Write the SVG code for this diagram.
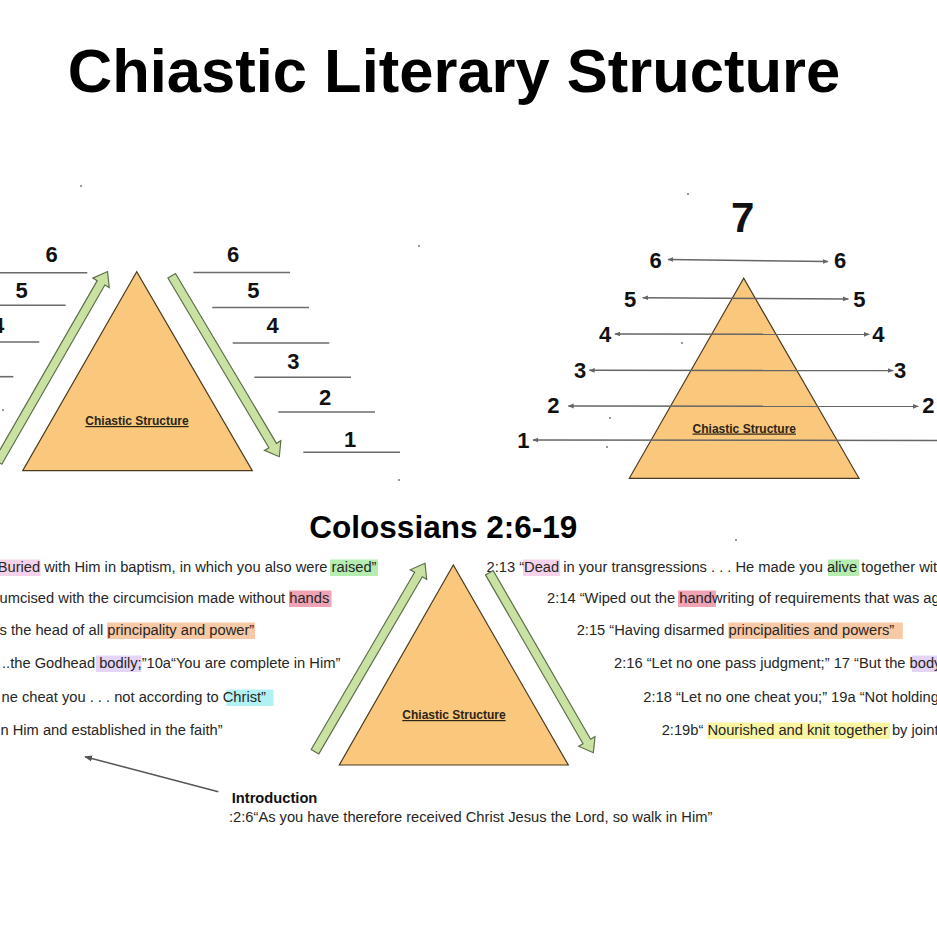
<svg xmlns="http://www.w3.org/2000/svg" width="937" height="937" viewBox="0 0 937 937">
<defs>
<style>
text{font-family:"Liberation Sans",Arial,sans-serif;}
.title{font-size:61.5px;font-weight:bold;fill:#000;}
.sub{font-size:31.5px;font-weight:bold;fill:#000;}
.num{font-size:22px;font-weight:bold;fill:#111;text-anchor:middle;}
.lbl{font-size:12px;font-weight:bold;fill:#2d2418;text-anchor:middle;text-decoration:underline;}
.body{font-size:14.7px;fill:#262626;}
.bold{font-size:14.7px;font-weight:bold;fill:#111;}
.tri{fill:#f9c87c;stroke:#4a3a20;stroke-width:1.2;}
.blk{fill:#c9e2a4;stroke:#5e7048;stroke-width:1.2;stroke-linejoin:miter;}
.stair{stroke:#6b6b6b;stroke-width:1.6;fill:none;}
.dbl{stroke:#666;stroke-width:1.5;fill:none;marker-start:url(#ah);marker-end:url(#ah);}
.speck{fill:#777;}
.pink{fill:#f6d2ea;}
.green{fill:#b5ecb0;}
.red{fill:#f0a3b4;}
.orange{fill:#f8c9a5;}
.lav{fill:#e4d4f5;}
.cyan{fill:#b2f1f3;}
.yellow{fill:#faf5a0;}
</style>
<marker id="ah" viewBox="0 0 10 10" refX="9" refY="5" markerWidth="6" markerHeight="6" markerUnits="userSpaceOnUse" orient="auto-start-reverse">
<path d="M0,1 L10,5 L0,9 z" fill="#666"/>
</marker>
<marker id="ah2" viewBox="0 0 10 10" refX="9" refY="5" markerWidth="8" markerHeight="8" markerUnits="userSpaceOnUse" orient="auto">
<path d="M0,1 L10,5 L0,9 z" fill="#555"/>
</marker>
</defs>
<rect width="937" height="937" fill="#fff"/>

<g id="title"><text class="title" x="454" y="92" text-anchor="middle">Chiastic Literary Structure</text></g>

<g id="specks">
<circle class="speck" cx="81" cy="186" r="1"/>
<circle class="speck" cx="419" cy="246" r="1"/>
<circle class="speck" cx="688" cy="194" r="1"/>
<circle class="speck" cx="399" cy="480" r="1"/>
<circle class="speck" cx="682" cy="343" r="1"/>
<circle class="speck" cx="610" cy="418" r="1"/>
<circle class="speck" cx="607" cy="447" r="1"/>
<circle class="speck" cx="3" cy="410" r="1"/>
<circle class="speck" cx="736" cy="540" r="1"/>
</g>

<!-- Left diagram -->
<g id="left-triangle">
<polygon class="tri" points="136.7,271.7 22.7,470.7 252.3,470.7"/>
<text class="lbl" x="137" y="425">Chiastic Structure</text>
</g>
<g id="left-stairs">
<line class="stair" x1="-5" y1="272.7" x2="87.3" y2="272.7"/>
<line class="stair" x1="-5" y1="305.3" x2="65.7" y2="305.3"/>
<line class="stair" x1="-5" y1="342" x2="39.3" y2="342"/>
<line class="stair" x1="-5" y1="376.7" x2="13.3" y2="376.7"/>
<text class="num" x="51.7" y="261.7">6</text>
<text class="num" x="21.7" y="298.3">5</text>
<text class="num" x="-2" y="333">4</text>
</g>
<g id="right-stairs">
<line class="stair" x1="193.3" y1="272.5" x2="290" y2="272.5"/>
<line class="stair" x1="212.3" y1="307.5" x2="309" y2="307.5"/>
<line class="stair" x1="232.7" y1="343" x2="329.3" y2="343"/>
<line class="stair" x1="254.3" y1="377.2" x2="351" y2="377.2"/>
<line class="stair" x1="278.3" y1="412" x2="375" y2="412"/>
<line class="stair" x1="303.3" y1="452.3" x2="400" y2="452.3"/>
<text class="num" x="233" y="261.7">6</text>
<text class="num" x="253.3" y="298.3">5</text>
<text class="num" x="272.7" y="333.3">4</text>
<text class="num" x="293.3" y="369.3">3</text>
<text class="num" x="325" y="405">2</text>
<text class="num" x="350" y="446.7">1</text>
</g>

<!-- Right diagram -->
<g id="pyramid">
<polygon class="tri" points="743.7,278.3 629.3,478.3 859,478.3"/>
<text class="lbl" x="744.3" y="432.5">Chiastic Structure</text>
<text class="num" x="742.7" y="231.7" style="font-size:42px">7</text>
</g>
<g id="pyramid-numbers">
<text class="num" x="655.7" y="268.3">6</text>
<text class="num" x="840" y="268.3">6</text>
<text class="num" x="630" y="306.7">5</text>
<text class="num" x="859.3" y="306.7">5</text>
<text class="num" x="605" y="341.7">4</text>
<text class="num" x="878.3" y="341.7">4</text>
<text class="num" x="580" y="378.3">3</text>
<text class="num" x="900" y="378.3">3</text>
<text class="num" x="553.3" y="413.3">2</text>
<text class="num" x="928.3" y="413.3">2</text>
<text class="num" x="523.3" y="448.3">1</text>
</g>

<!-- Bottom section -->
<g id="colossians-title"><text class="sub" x="443.3" y="538.3" text-anchor="middle">Colossians 2:6-19</text></g>
<g id="middle-triangle">
<polygon class="tri" points="453.3,565 339.3,765 568.3,765"/>
<text class="lbl" x="454" y="719">Chiastic Structure</text>
</g>

<g id="left-verses">
<rect class="pink" x="-3" y="559.5" width="43.5" height="16.5"/>
<rect class="green" x="330" y="559.5" width="48" height="16.5"/>
<text class="body" x="-2.3" y="572">Buried with Him in baptism, in which you also were raised”</text>
<rect class="red" x="289" y="590.5" width="42.5" height="16.5"/>
<text class="body" x="-0.5" y="603">umcised with the circumcision made without hands</text>
<rect class="orange" x="107" y="622.5" width="148" height="16.5"/>
<text class="body" x="-0.5" y="635">s the head of all principality and power”</text>
<rect class="lav" x="96" y="655.5" width="45.5" height="16.5"/>
<text class="body" x="2" y="668">..the Godhead bodily;”10a“You are complete in Him”</text>
<rect class="cyan" x="226.5" y="689.5" width="47" height="16.5"/>
<text class="body" x="1.5" y="702">ne cheat you . . . not according to  Christ”</text>
<text class="body" x="0.5" y="735">n Him and established in the faith”</text>
</g>

<g id="right-verses">
<rect class="pink" x="523" y="559.5" width="37" height="16.5"/>
<rect class="green" x="828" y="559.5" width="31" height="16.5"/>
<text class="body" x="486.5" y="572">2:13 “Dead in your transgressions . . . He made you alive together wit</text>
<rect class="red" x="678" y="590.5" width="38" height="16.5"/>
<text class="body" x="547" y="603">2:14 “Wiped out the handwriting of requirements that was ag</text>
<rect class="orange" x="728.3" y="622.5" width="174.5" height="16.5"/>
<text class="body" x="576.7" y="635">2:15 “Having disarmed principalities and powers”</text>
<rect class="lav" x="912" y="655.5" width="30" height="16.5"/>
<text class="body" x="614" y="668">2:16 “Let no one pass judgment;” 17 “But the body</text>
<text class="body" x="643.3" y="702">2:18 “Let no one cheat you;” 19a “Not holding</text>
<rect class="yellow" x="707.5" y="722.5" width="182.5" height="16.5"/>
<text class="body" x="661.7" y="735">2:19b“ Nourished and knit together by joint</text>
</g>

<g id="introduction">
<text class="bold" x="231.7" y="803.3">Introduction</text>
<text class="body" x="229" y="821.7">:2:6“As you have therefore received Christ Jesus the Lord, so walk in Him”</text>
</g>

<g id="connectors">
<!-- block arrows -->
<path class="blk" transform="translate(-2,462) rotate(-60.1)" d="M0,-4.4 L206.7,-4.4 L206.7,-9.5 L219.7,0 L206.7,9.5 L206.7,4.4 L0,4.4 Z"/>
<path class="blk" transform="translate(171.7,275.7) rotate(59.27)" d="M0,-4.4 L197.6,-4.4 L197.6,-9.5 L210.6,0 L197.6,9.5 L197.6,4.4 L0,4.4 Z"/>
<path class="blk" transform="translate(315,751.7) rotate(-59.72)" d="M0,-4.4 L205.2,-4.4 L205.2,-9.5 L218.2,0 L205.2,9.5 L205.2,4.4 L0,4.4 Z"/>
<path class="blk" transform="translate(489.3,572.7) rotate(59.98)" d="M0,-4.4 L194.9,-4.4 L194.9,-9.5 L207.9,0 L194.9,9.5 L194.9,4.4 L0,4.4 Z"/>
<!-- pyramid double arrows -->
<line class="dbl" x1="668" y1="259.5" x2="828" y2="261.5"/>
<line class="dbl" x1="642.7" y1="297.7" x2="848.3" y2="299"/>
<line class="dbl" x1="615" y1="334" x2="869.3" y2="334.3"/>
<line class="dbl" x1="589.3" y1="370.3" x2="893.3" y2="370.5"/>
<line class="dbl" x1="568.3" y1="406" x2="918.3" y2="406.3"/>
<line class="dbl" x1="533" y1="440" x2="960" y2="440.5"/>
<!-- introduction pointer -->
<line x1="218.3" y1="791.7" x2="85" y2="756.7" stroke="#555" stroke-width="1.5" marker-end="url(#ah2)"/>
</g>
</svg>
